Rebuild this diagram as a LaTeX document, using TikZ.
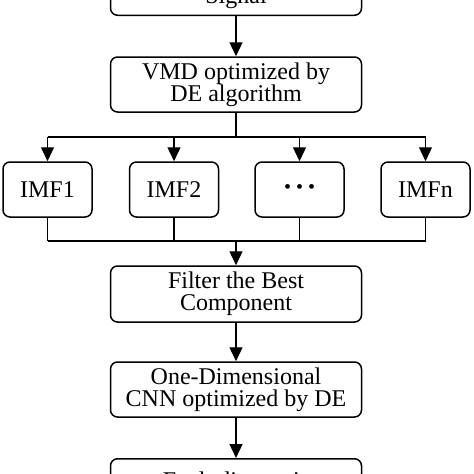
\documentclass[tikz,border=0pt]{standalone}
\usepackage{fontspec}
\setmainfont{Liberation Serif}
\usetikzlibrary{arrows.meta}
\begin{document}
\begin{tikzpicture}[x=1pt,y=-1pt,
  box/.style={draw, line width=1.5pt, rounded corners=7pt, inner sep=0pt,
    align=center, font=\fontsize{24}{22}\selectfont},
  wide/.style={box, minimum width=251pt, minimum height=55pt},
  imf/.style={box, minimum width=89pt, minimum height=55pt},
  conn/.style={line width=1.3pt},
  arr/.style={conn, -{Triangle[width=13pt,length=14pt]}}
]
\useasboundingbox (0,0) rectangle (474,474);
\node[wide, minimum height=0pt, text height=40pt, text depth=7pt, inner ysep=4.5pt, anchor=south] (sig) at (236,16) {Signal};
\node[wide] (vmd) at (236,84.5) {VMD optimized by\\DE algorithm};
\node[imf] (i1) at (47.5,189.5) {IMF1};
\node[imf] (i2) at (174,189.5) {IMF2};
\node[imf] (i3) at (299.5,189.5) {\fontsize{20}{20}\selectfont\raisebox{1pt}{•\hspace{5pt}•\hspace{5pt}•}};
\node[imf] (i4) at (425.5,189.5) {IMFn};
\node[wide, minimum height=56pt] (flt) at (236,294) {Filter the Best\\Component};
\node[wide] (cnn) at (236,389.5) {One-Dimensional\\CNN optimized by DE};
\node[wide, minimum height=56pt, text height=16pt, text depth=12pt, anchor=north] (out) at (236,458) {Fault diagnosis};
\coordinate (split) at (236,137);
\coordinate (join) at (236,241);
\draw[arr] (sig) -- (vmd);
\draw[conn] (vmd) -- (split);
\draw[conn] (i1.north |- split) -- (i4.north |- split);
\foreach \n in {i1,i2,i3,i4} {
  \draw[arr] (\n.north |- split) -- (\n);
  \draw[conn] (\n) -- (\n.south |- join);
}
\draw[conn] (i1.south |- join) -- (i4.south |- join);
\draw[arr] (join) -- (flt);
\draw[arr] (flt) -- (cnn);
\draw[arr] (cnn) -- (out);
\end{tikzpicture}
\end{document}
